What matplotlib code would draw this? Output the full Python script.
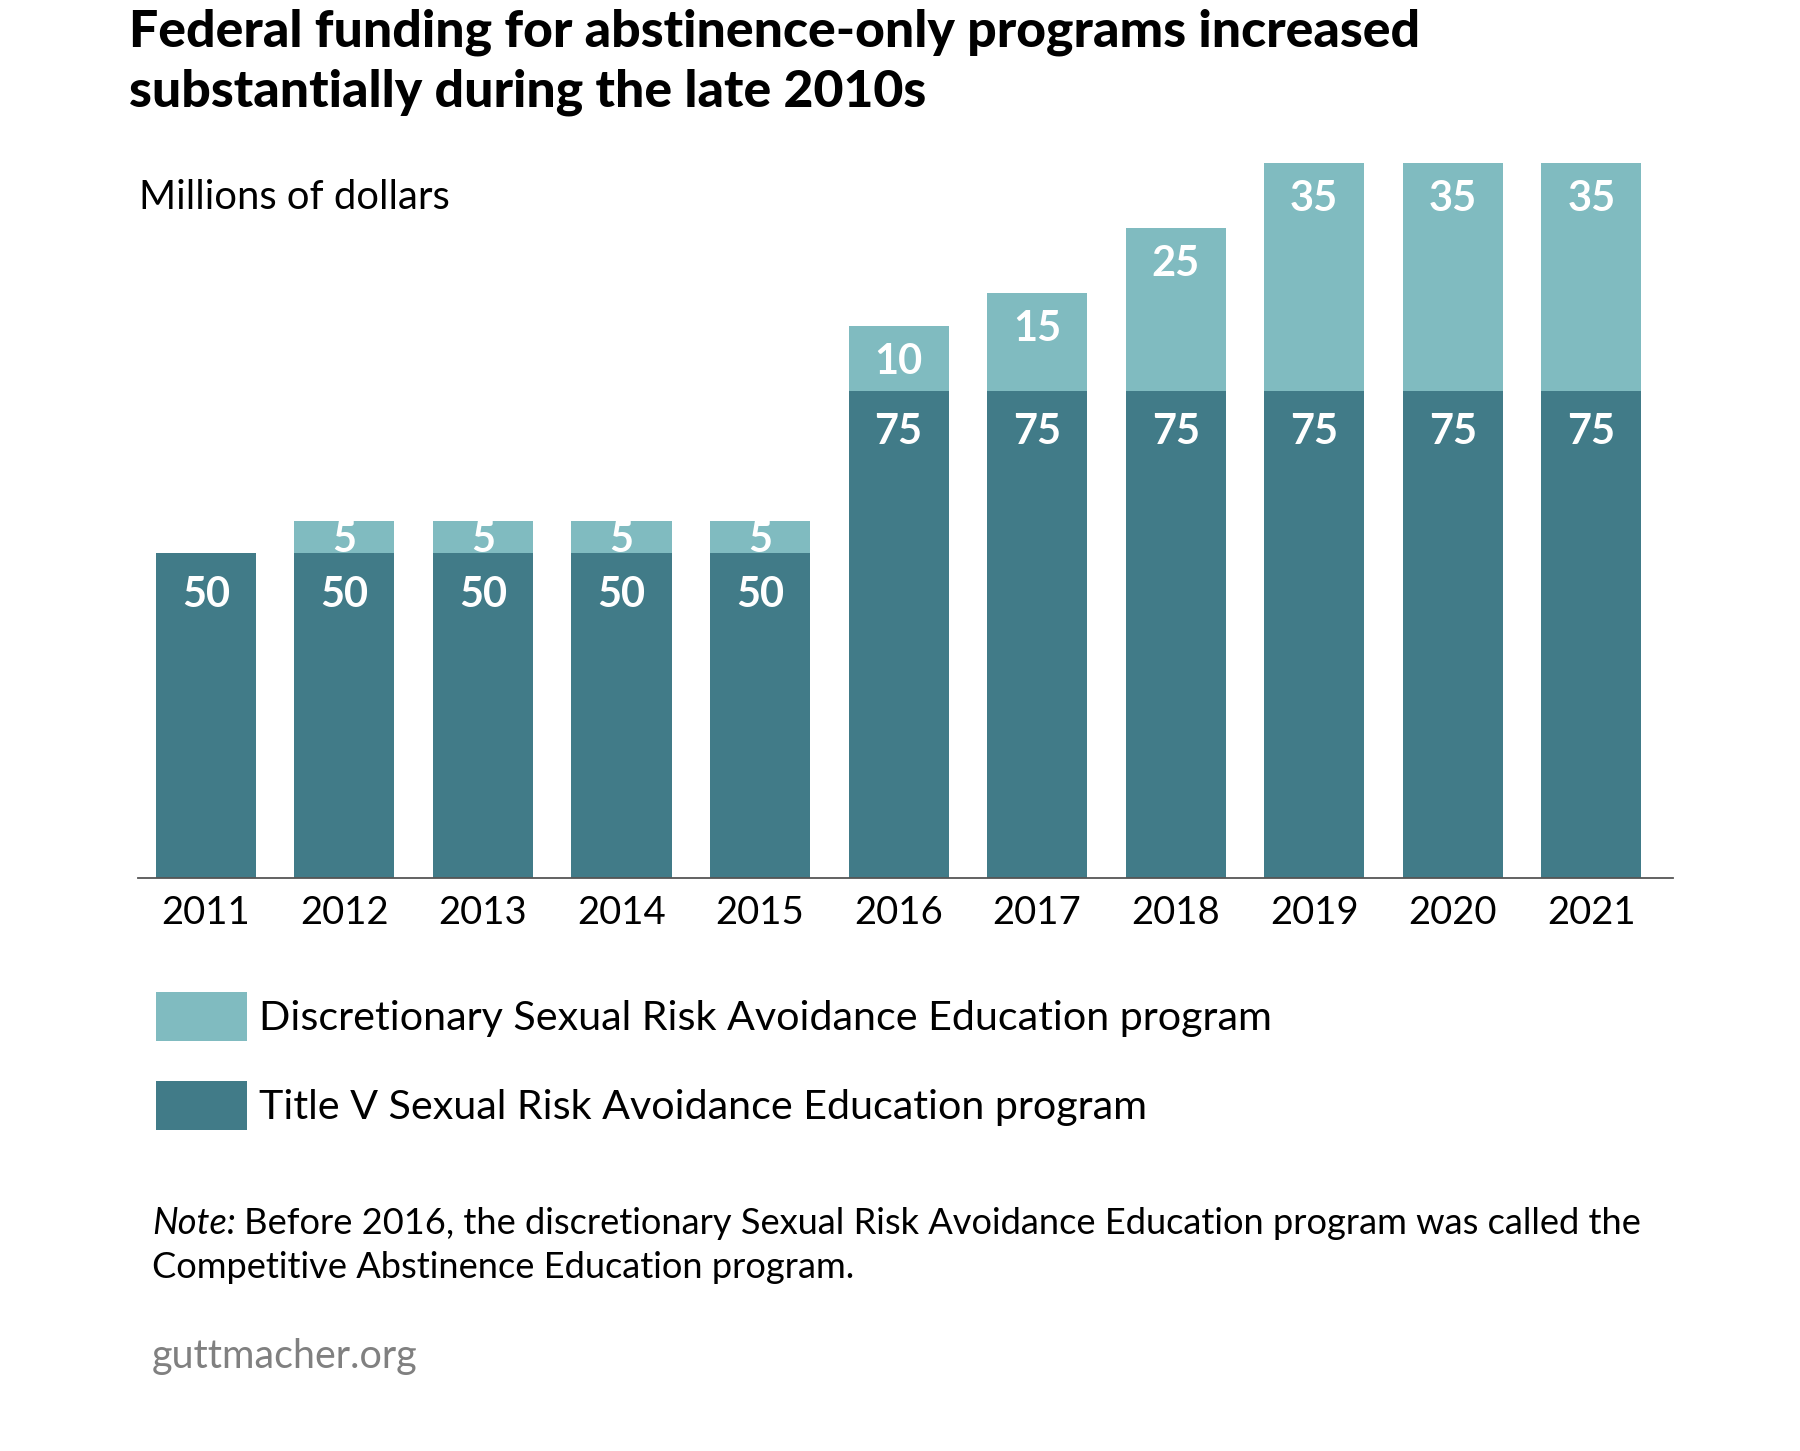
import matplotlib
matplotlib.use("Agg")
import matplotlib.pyplot as plt
import numpy as np

# ---------------- data ----------------
years = ["2011", "2012", "2013", "2014", "2015", "2016", "2017", "2018", "2019", "2020", "2021"]
title_v = [50, 50, 50, 50, 50, 75, 75, 75, 75, 75, 75]
discretionary = [0, 5, 5, 5, 5, 10, 15, 25, 35, 35, 35]
series_names = ["Discretionary Sexual Risk Avoidance Education program",
                "Title V Sexual Risk Avoidance Education program"]
title_lines = ["Federal funding for abstinence-only programs increased",
               "substantially during the late 2010s"]
y_label = "Millions of dollars"
note_lead = "Note:"
note_lines = ["Before 2016, the discretionary Sexual Risk Avoidance Education program was called the",
              "Competitive Abstinence Education program."]
source = "guttmacher.org"

# ---------------- style ----------------
W, H, DPI = 1800, 1451, 100
DARK = "#417b88"
LIGHT = "#80bbc0"
FONT = "Lato"
plt.rcParams["font.family"] = [FONT, "DejaVu Sans"]

fig = plt.figure(figsize=(W / DPI, H / DPI), dpi=DPI)
fig.patch.set_facecolor("white")
renderer = fig.canvas.get_renderer()


def fx(x):
    return x / W


def fy(y):
    return 1 - y / H


def fit(t, target):
    w = t.get_window_extent(renderer).width
    t.set_fontsize(t.get_fontsize() * target / w)
    return t


# axes: x from 138 px to 1673 px, y baseline 878 px, top (110) at 163 px
ax_left, ax_right, ax_bottom, ax_top = 138, 1673, 878, 163
ax = fig.add_axes([fx(ax_left), fy(ax_bottom), (ax_right - ax_left) / W, (ax_bottom - ax_top) / H])
x = np.arange(len(years))
bar_w = 0.722
b1 = ax.bar(x, title_v, width=bar_w, color=DARK, linewidth=0, label=series_names[1])
b2 = ax.bar(x, discretionary, width=bar_w, bottom=title_v, color=LIGHT, linewidth=0, label=series_names[0])
ax.set_xlim(-0.49, 10.59)
ax.set_ylim(0, 110)
for s in ["top", "right", "left"]:
    ax.spines[s].set_visible(False)
ax.spines["bottom"].set_color("#555555")
ax.spines["bottom"].set_linewidth(1.3)
ax.set_yticks([])
ax.set_xticks(x)
ax.set_xticklabels(years)
ax.tick_params(axis="x", length=0, pad=12, labelsize=27.5, labelcolor="black")

# value labels
px_per_unit = (ax_bottom - ax_top) / 110.0
pt_per_px = 72.0 / DPI
for i in range(len(years)):
    segs = [(0, title_v[i], 54), (title_v[i], discretionary[i], 48)]
    for bottom, val, off in segs:
        if val <= 0:
            continue
        seg_px = val * px_per_unit
        if seg_px > off + 5:
            ax.annotate(str(val), xy=(x[i], bottom + val), xytext=(0, -off * pt_per_px),
                        textcoords="offset points", ha="center", va="baseline",
                        color="white", fontsize=30, fontweight="bold")
        else:
            ax.annotate(str(val), xy=(x[i], bottom), xytext=(0, 1 * pt_per_px),
                        textcoords="offset points", ha="center", va="baseline",
                        color="white", fontsize=30, fontweight="bold")

# title
t1 = fig.text(fx(129), fy(46), title_lines[0], fontsize=34, fontweight="black", va="baseline", ha="left")
fit(t1, 1293)
t2 = fig.text(fx(129), fy(106), title_lines[1], fontsize=t1.get_fontsize(), fontweight="black",
              va="baseline", ha="left")

# y unit label
ty = fig.text(fx(139), fy(209), y_label, fontsize=29, va="baseline", ha="left")
fit(ty, 311)

# legend
tmp = fig.text(0, 0, series_names[0], fontsize=29)
fit(tmp, 1012)
leg_fs = tmp.get_fontsize()
tmp.remove()
em = leg_fs / pt_per_px  # px per em
leg = fig.legend(handles=[b2, b1], labels=[series_names[0], series_names[1]],
                 loc="upper left", bbox_to_anchor=(fx(156), fy(992)),
                 frameon=False, fontsize=leg_fs, handlelength=91 / em, handleheight=60 / em,
                 handletextpad=12 / em, labelspacing=40 / em, borderpad=0, borderaxespad=0)

# note
n0 = fig.text(fx(152), fy(1234), note_lead, fontsize=26, style="italic", va="baseline", ha="left")
n0w = n0.get_window_extent(renderer).width
n1 = fig.text(fx(152) + (n0w + 9) / W, fy(1234), note_lines[0], fontsize=26, va="baseline", ha="left")
fit(n1, 1640 - 152 - n0w - 9)
n0.set_fontsize(n1.get_fontsize())
n2 = fig.text(fx(152), fy(1278), note_lines[1], fontsize=n1.get_fontsize(), va="baseline", ha="left")

# source
src = fig.text(fx(152), fy(1368), source, fontsize=28, color="#808080", va="baseline", ha="left")
fit(src, 266)

fig.savefig("out.png", dpi=DPI, facecolor="white")
